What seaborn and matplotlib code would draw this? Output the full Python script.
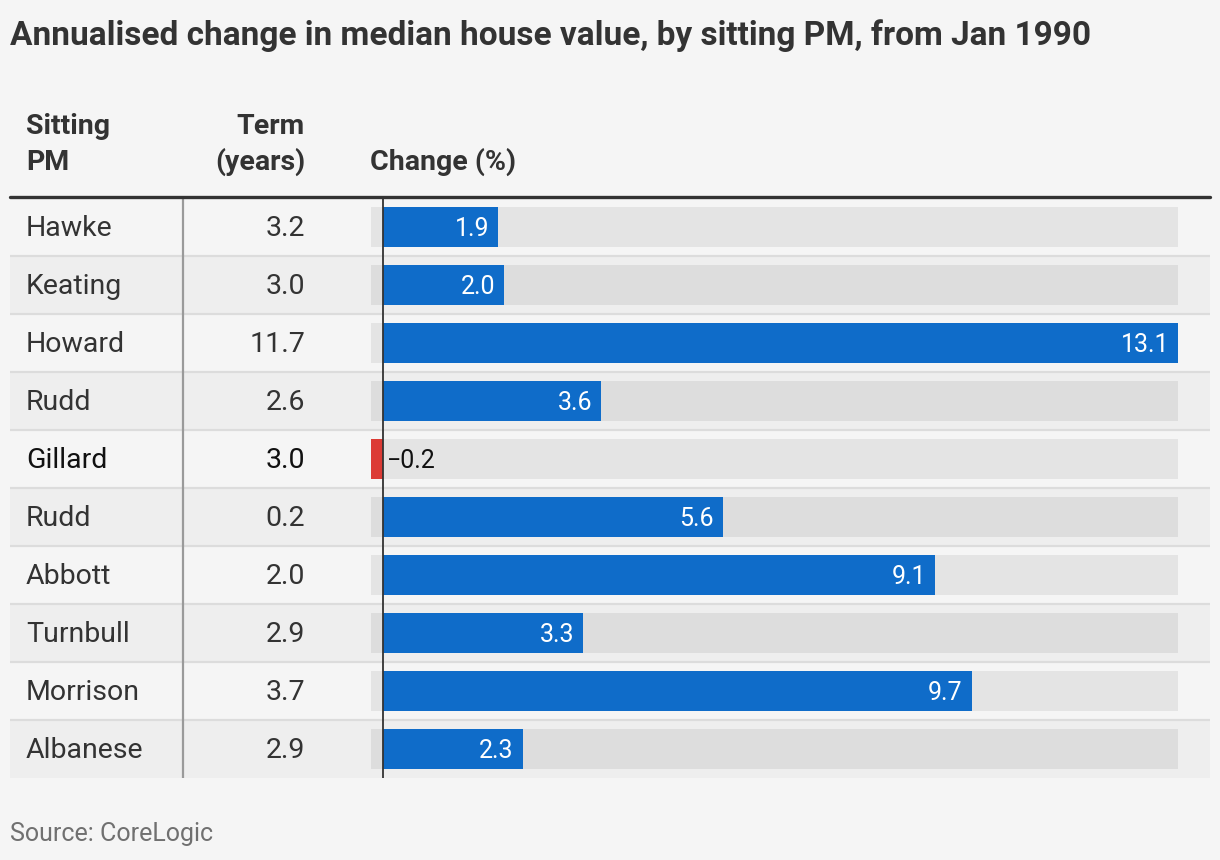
import matplotlib
matplotlib.use("Agg")
import matplotlib.pyplot as plt
import matplotlib.transforms as mtransforms
import pandas as pd
import seaborn as sns

# --- data ---
pms = ["Hawke", "Keating", "Howard", "Rudd", "Gillard", "Rudd",
       "Abbott", "Turnbull", "Morrison", "Albanese"]
terms = [3.2, 3.0, 11.7, 2.6, 3.0, 0.2, 2.0, 2.9, 3.7, 2.9]
changes = [1.9, 2.0, 13.1, 3.6, -0.2, 5.6, 9.1, 3.3, 9.7, 2.3]

title = "Annualised change in median house value, by sitting PM, from Jan 1990"
source = "Source: CoreLogic"

BG = "#f5f5f5"
ALT = "#eeeeee"
BLUE = "#0f6cc9"
RED = "#dc3b35"
TXT = "#333333"

sns.set_theme(style="white")
plt.rcParams["font.family"] = ["Roboto", "DejaVu Sans"]

df = pd.DataFrame({"row": range(len(pms)), "pm": pms, "term": terms, "change": changes})
df["sign"] = ["neg" if c < 0 else "pos" for c in df["change"]]

W, H = 1220, 860
fig = plt.figure(figsize=(W / 100, H / 100), dpi=100, facecolor=BG)

# axes covers the table body: x 10..1210 px, y 198..778 px
left_px, right_px, top_px, bot_px = 10, 1210, 198, 778
ax = fig.add_axes([left_px / W, 1 - bot_px / H, (right_px - left_px) / W, (bot_px - top_px) / H])
ax.set_facecolor(BG)

zero_px, max_px = 383, 1178
scale = (max_px - zero_px) / max(changes)
xlim = (-(zero_px - left_px) / scale, (right_px - zero_px) / scale)
n = len(pms)

# alternating row bands and separators
for i in range(n):
    if i % 2 == 1:
        ax.axhspan(i - 0.5, i + 0.5, color=ALT, zorder=0, lw=0)
    if i > 0:
        ax.axhline(i - 0.5, color="#dcdcdc", lw=1.6, zorder=1)

# background track bars spanning data range
lo, hi = min(changes), max(changes)
track_cols = ["#e4e4e4" if i % 2 == 0 else "#dddddd" for i in range(n)]
ax.barh(df["row"], hi - lo, left=lo, height=0.69, color=track_cols, zorder=2, lw=0)

sns.barplot(data=df, x="change", y="row", hue="sign", orient="h",
            palette={"pos": BLUE, "neg": RED}, width=0.69, dodge=False,
            legend=False, ax=ax, zorder=3, linewidth=0, saturation=1)
ax.set_ylim(n - 0.5, -0.5)
ax.set_xlim(*xlim)

# vertical lines
ax.axvline(0, color=TXT, lw=1.3, zorder=4)
sep_x = (183 - left_px) / (right_px - left_px)
ax.plot([sep_x, sep_x], [0, 1], transform=ax.transAxes, color="#9a9a9a", lw=1.6, zorder=4)

# text columns
FS = 20.5
up = mtransforms.ScaledTranslation(0, 2 / 100, fig.dpi_scale_trans)
tr = mtransforms.blended_transform_factory(fig.transFigure, ax.transData) + up
for i, r in df.iterrows():
    col = "#111111" if r["pm"] == "Gillard" and r["change"] < 0 else TXT
    ax.text(26 / W, i, r["pm"], transform=tr, ha="left", va="center_baseline",
            fontsize=FS, color=col)
    ax.text(305 / W, i, f"{r['term']:.1f}", transform=tr, ha="right", va="center_baseline",
            fontsize=FS, color=col)
    c = r["change"]
    lab = f"{c:.1f}".replace("-", "\u2212")
    if c >= 0:
        ax.text(c, i, lab, ha="right", va="center_baseline", fontsize=18, color="white",
                zorder=5, transform=ax.transData + mtransforms.ScaledTranslation(-9 / 100, 1 / 100, fig.dpi_scale_trans))
    else:
        ax.text(0, i, lab, ha="left", va="center_baseline", fontsize=18, color="#111111",
                zorder=5, transform=ax.transData + mtransforms.ScaledTranslation(4 / 100, 1 / 100, fig.dpi_scale_trans))

ax.set_xlabel("")
ax.set_ylabel("")
ax.set_xticks([])
ax.set_yticks([])
for s in ax.spines.values():
    s.set_visible(False)

# header
fig.add_artist(plt.Line2D([left_px / W, right_px / W], [1 - 197 / H, 1 - 197 / H],
                          color=TXT, lw=2.4))
hdr = dict(va="center_baseline", fontsize=FS, fontweight="bold", color=TXT)
fig.text(26 / W, 1 - 124 / H, "Sitting", ha="left", **hdr)
fig.text(26 / W, 1 - 159 / H, "PM", ha="left", **hdr)
fig.text(305 / W, 1 - 124 / H, "Term", ha="right", **hdr)
fig.text(305 / W, 1 - 159 / H, "(years)", ha="right", **hdr)
fig.text(370 / W, 1 - 159 / H, "Change (%)", ha="left", **hdr)

fig.text(10 / W, 1 - 32 / H, title, ha="left", va="center_baseline", fontsize=24,
         fontweight="bold", color=TXT)
fig.text(10 / W, 1 - 832 / H, source, ha="left", va="center_baseline", fontsize=18,
         color="#707070")

fig.savefig("out.png", dpi=100, facecolor=BG)
